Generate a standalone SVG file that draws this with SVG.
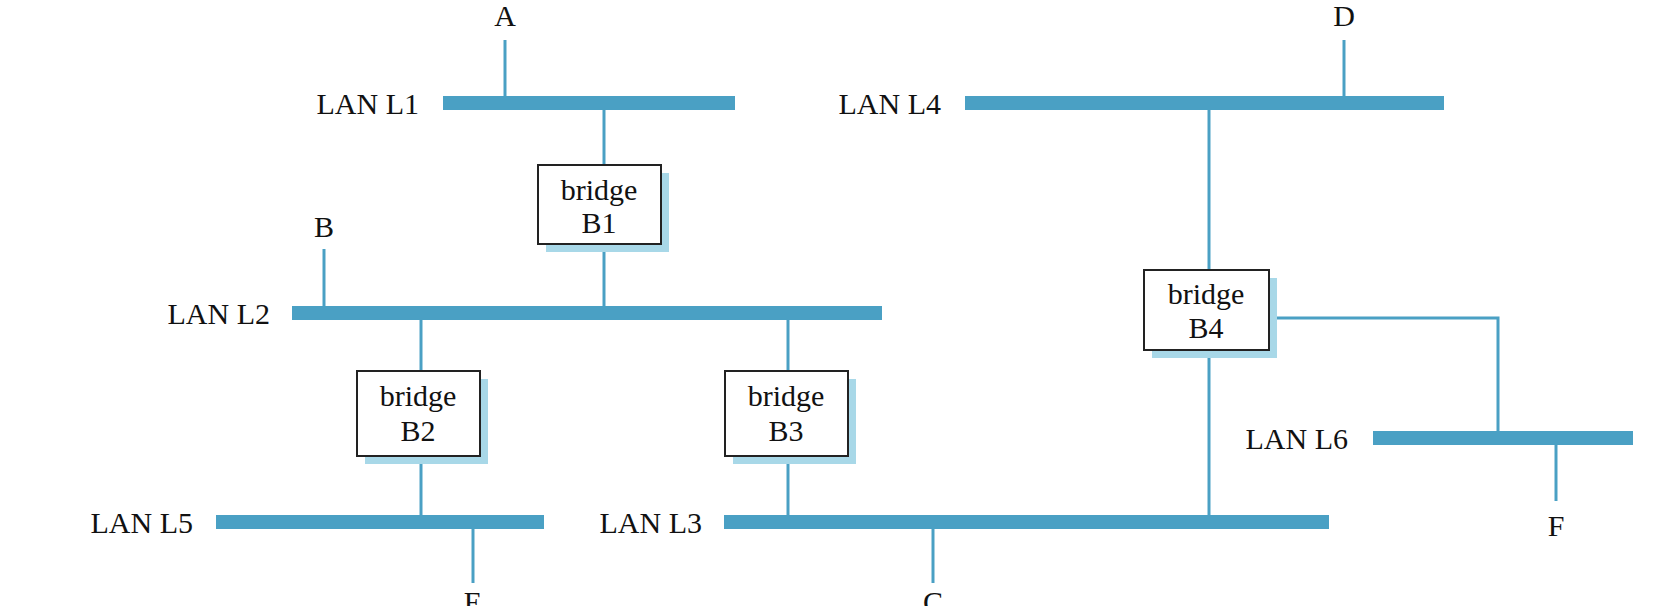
<svg xmlns="http://www.w3.org/2000/svg" width="1654" height="606" viewBox="0 0 1654 606">
<style>
text{font-family:"Liberation Serif",serif;font-size:30px;fill:#111}
.bar{stroke:#4aa0c4;stroke-width:14;fill:none}
.ln{stroke:#4aa0c4;stroke-width:3;fill:none}
.box{fill:#fff;stroke:#222;stroke-width:2}
.sh{fill:#a8d8e8}
.r{text-anchor:end}
.m{text-anchor:middle}
</style>
<rect width="1654" height="606" fill="#fff"/>
<g id="connectors">
<line class="ln" x1="505" y1="40" x2="505" y2="103"/>
<line class="ln" x1="604" y1="103" x2="604" y2="165"/>
<line class="ln" x1="604" y1="244" x2="604" y2="313"/>
<line class="ln" x1="324" y1="249" x2="324" y2="313"/>
<line class="ln" x1="421" y1="313" x2="421" y2="371"/>
<line class="ln" x1="421" y1="456" x2="421" y2="522"/>
<line class="ln" x1="788" y1="313" x2="788" y2="371"/>
<line class="ln" x1="788" y1="456" x2="788" y2="522"/>
<line class="ln" x1="473" y1="522" x2="473" y2="583"/>
<line class="ln" x1="933" y1="522" x2="933" y2="583"/>
<line class="ln" x1="1344" y1="40" x2="1344" y2="103"/>
<line class="ln" x1="1209" y1="103" x2="1209" y2="270"/>
<line class="ln" x1="1209" y1="350" x2="1209" y2="522"/>
<polyline class="ln" points="1269,318 1498,318 1498,438"/>
<line class="ln" x1="1556" y1="438" x2="1556" y2="501"/>
</g>
<g id="L1"><line class="bar" x1="443" y1="103" x2="735" y2="103"/><text class="r" x="419" y="114">LAN L1</text></g>
<g id="L2"><line class="bar" x1="292" y1="313" x2="882" y2="313"/><text class="r" x="270" y="324">LAN L2</text></g>
<g id="L3"><line class="bar" x1="724" y1="522" x2="1329" y2="522"/><text class="r" x="702" y="533">LAN L3</text></g>
<g id="L4"><line class="bar" x1="965" y1="103" x2="1444" y2="103"/><text class="r" x="941" y="114">LAN L4</text></g>
<g id="L5"><line class="bar" x1="216" y1="522" x2="544" y2="522"/><text class="r" x="193" y="533">LAN L5</text></g>
<g id="L6"><line class="bar" x1="1373" y1="438" x2="1633" y2="438"/><text class="r" x="1348" y="449">LAN L6</text></g>
<g id="A"><text class="m" x="505" y="26">A</text></g>
<g id="B"><text class="m" x="324" y="237">B</text></g>
<g id="C"><text class="m" x="933" y="612">C</text></g>
<g id="D"><text class="m" x="1344" y="26">D</text></g>
<g id="E"><text class="m" x="473" y="612">E</text></g>
<g id="F"><text class="m" x="1556" y="536">F</text></g>
<g id="B1"><rect class="sh" x="546" y="173" width="123" height="79"/><rect class="box" x="538" y="165" width="123" height="79"/><text class="m" x="599" y="200">bridge</text><text class="m" x="599" y="233">B1</text></g>
<g id="B2"><rect class="sh" x="365" y="379" width="123" height="85"/><rect class="box" x="357" y="371" width="123" height="85"/><text class="m" x="418" y="406">bridge</text><text class="m" x="418" y="441">B2</text></g>
<g id="B3"><rect class="sh" x="733" y="379" width="123" height="85"/><rect class="box" x="725" y="371" width="123" height="85"/><text class="m" x="786" y="406">bridge</text><text class="m" x="786" y="441">B3</text></g>
<g id="B4"><rect class="sh" x="1152" y="278" width="125" height="80"/><rect class="box" x="1144" y="270" width="125" height="80"/><text class="m" x="1206" y="304">bridge</text><text class="m" x="1206" y="338">B4</text></g>
</svg>
